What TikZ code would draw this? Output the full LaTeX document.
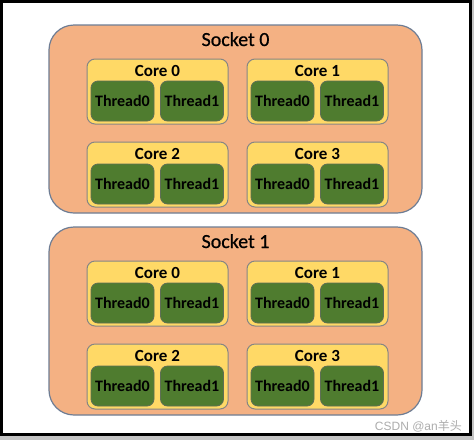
\documentclass[tikz,border=0pt]{standalone}
\usepackage{fontspec}
\setmainfont{Carlito}
\newfontfamily\sockfont[BoldFont=Carlito, BoldFeatures={FakeBold=0.7}]{Carlito}
\newfontfamily\cjkfont{Noto Sans CJK SC}
\newfontfamily\wmfont{Liberation Sans}
\definecolor{sockfill}{HTML}{F4B183}
\definecolor{sockline}{HTML}{6E7D94}
\definecolor{corefill}{HTML}{FFD966}
\definecolor{coreline}{HTML}{858585}
\definecolor{thrfill}{HTML}{4F7C2F}
\definecolor{thrline}{HTML}{5F6F55}
\definecolor{framegray}{HTML}{C4C4C4}
\begin{document}
\begin{tikzpicture}[x=1pt,y=-1pt,
  socketbox/.style={draw=sockline, fill=sockfill, line width=1.2pt, rounded corners=25pt,
    minimum width=373pt, minimum height=188pt, inner sep=0pt},
  socketlabel/.style={inner sep=0pt, font=\sockfont\bfseries\fontsize{20}{24}\selectfont},
  corebox/.style={draw=coreline, fill=corefill, line width=1pt, rounded corners=8pt,
    minimum width=141pt, minimum height=65pt, inner sep=0pt},
  corelabel/.style={inner sep=0pt, font=\bfseries\fontsize{17}{20}\selectfont},
  threadbox/.style={draw=thrline, fill=thrfill, line width=0.8pt, rounded corners=7pt,
    minimum width=63pt, minimum height=40pt, inner sep=0pt, text height=10.3pt, text depth=0pt,
    font=\bfseries\fontsize{16}{19}\selectfont}]
\useasboundingbox (0,0) rectangle (474,440);
\fill[framegray] (0,0) rectangle (474,440);
\fill[white] (0,0) rectangle (471,435);
\draw[black, line width=3pt] (1.5,1.5) rectangle (470.5,434.5);
\foreach \s/\sy in {0/25, 1/227} {
  \node[socketbox] (s\s) at (235.5, \sy+94) {};
  \node[socketlabel, anchor=base] (s\s-l) at (235.5, \sy+21) {Socket \s};
  \foreach \c/\cx/\cy in {0/87/34, 1/247/34, 2/87/117, 3/247/117} {
    \node[corebox] (s\s-c\c) at (\cx+70.5, \sy+\cy+32.5) {};
    \node[corelabel, anchor=base] (s\s-c\c-l) at (\cx+70.5, \sy+\cy+17.7) {Core \c};
    \node[threadbox] (s\s-c\c-t0) at (\cx+35.5, \sy+\cy+42) {Thread0};
    \node[threadbox] (s\s-c\c-t1) at (\cx+105, \sy+\cy+42) {Thread1};
  }
}
\node[text=black!32, inner sep=0pt, anchor=east, font=\wmfont\fontsize{12}{14}\selectfont] (wm) at (462,426) {CSDN @an{\cjkfont 羊头}};
\end{tikzpicture}
\end{document}
